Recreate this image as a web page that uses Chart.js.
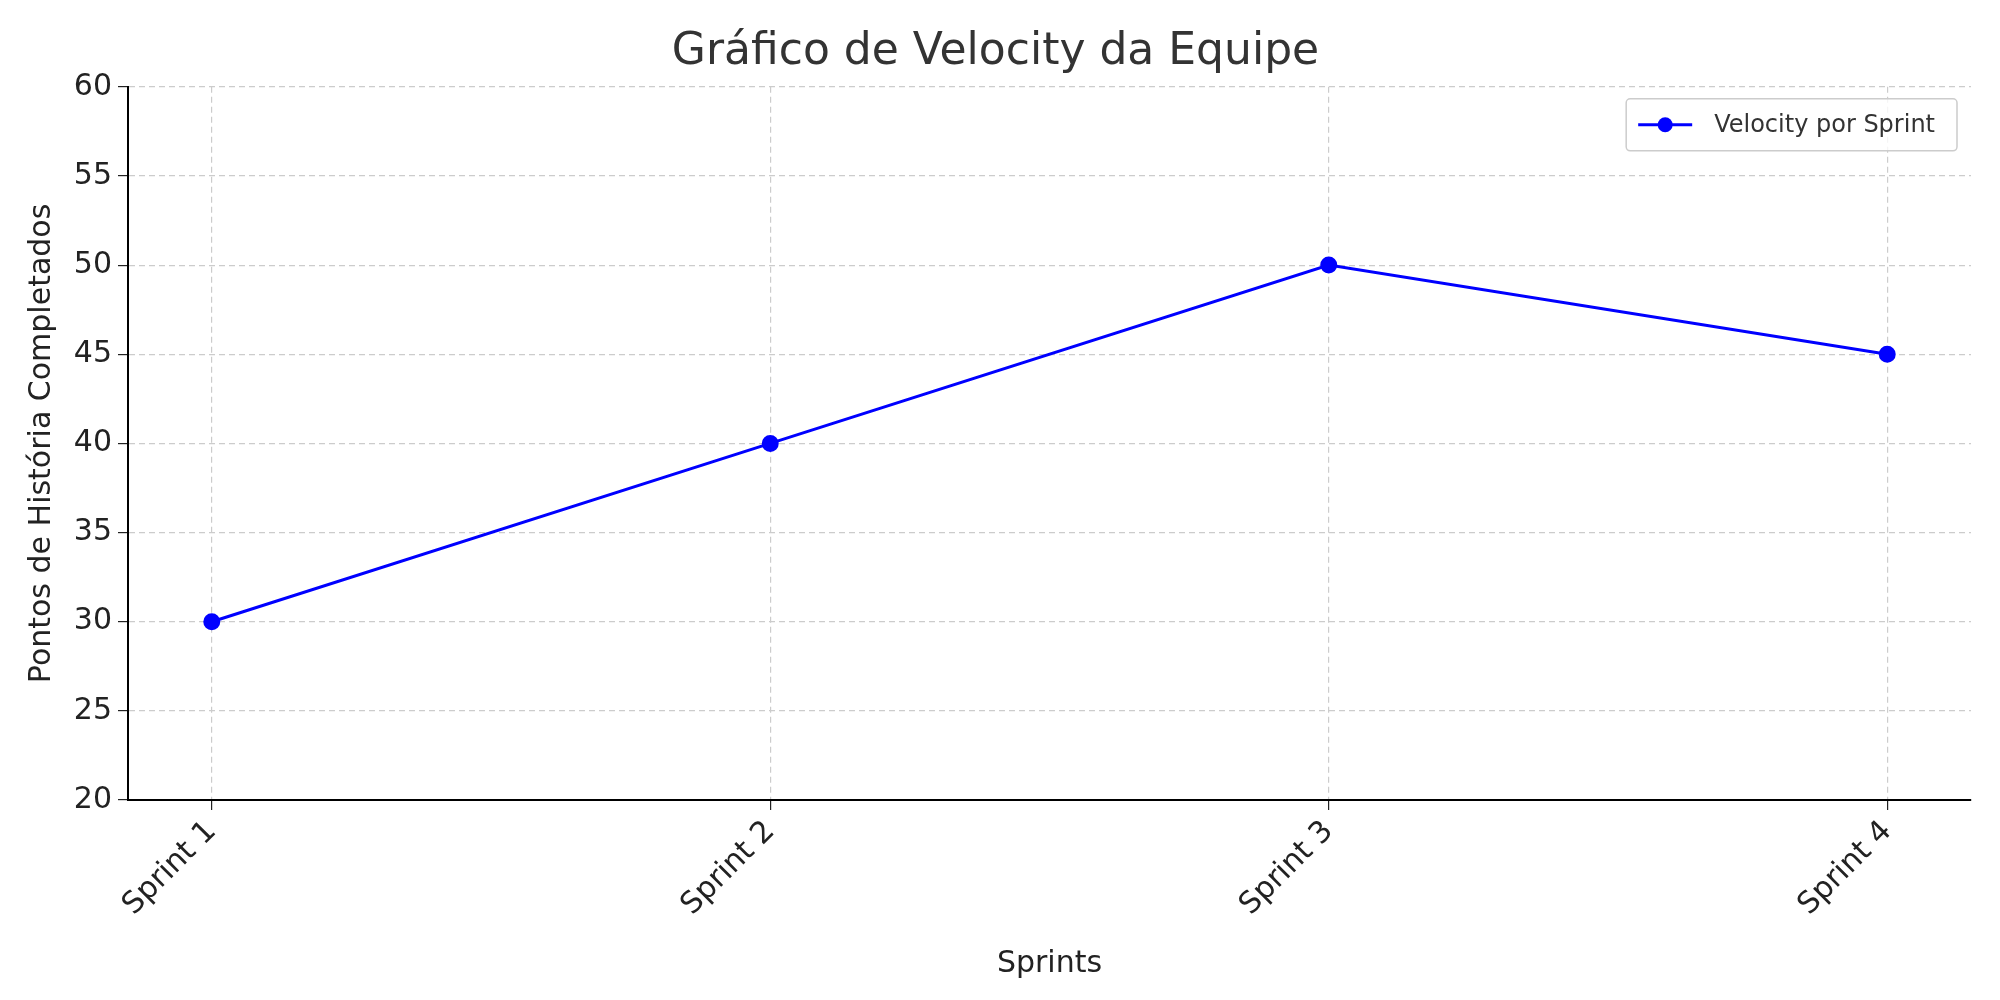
<!DOCTYPE html>
<html><head><meta charset="utf-8">
<script src="https://cdn.jsdelivr.net/npm/chart.js@4"></script>
<style>html,body{margin:0;padding:0;background:#fff}#w{width:2000px;height:1000px}</style>
</head><body><div id="w"><canvas id="c" width="2000" height="1000"></canvas></div>
<script>
const categories = ["Sprint 1","Sprint 2","Sprint 3","Sprint 4"];
const velocity = [30,40,50,45];
const yTicks = [20,25,30,35,40,45,50,55,60];
const seriesLabel = "Velocity por Sprint";
const FONT = "DejaVu Sans";

const legendPlugin = {
  id:'inLegend',
  afterDraw(chart){
    const {ctx, chartArea:a} = chart;
    ctx.save();
    ctx.font = `24px "${FONT}"`;
    const tw = ctx.measureText(seriesLabel).width;
    const w = tw + 110, h = 52;
    const x = a.right - 14 - w, y = a.top + 12;
    ctx.fillStyle='rgba(255,255,255,0.8)';
    ctx.strokeStyle='#cccccc'; ctx.lineWidth=1.5;
    ctx.beginPath(); ctx.roundRect(x,y,w,h,4); ctx.fill(); ctx.stroke();
    ctx.strokeStyle='#0000ff'; ctx.lineWidth=3;
    ctx.beginPath(); ctx.moveTo(x+12,y+h/2); ctx.lineTo(x+66,y+h/2); ctx.stroke();
    ctx.fillStyle='#0000ff'; ctx.beginPath(); ctx.arc(x+39,y+h/2,7.5,0,Math.PI*2); ctx.fill();
    ctx.fillStyle='#333'; ctx.textBaseline='middle';
    ctx.fillText(seriesLabel, x+88, y+h/2+1);
    ctx.restore();
  }
};

new Chart(document.getElementById('c'), {
  type:'line',
  data:{datasets:[{label:seriesLabel,
    data:velocity.map((v,i)=>({x:i,y:v})),
    borderColor:'#0000ff',backgroundColor:'#0000ff',borderWidth:3,
    pointRadius:7,pointHoverRadius:7,tension:0}]},
  options:{
    responsive:false,animation:false,devicePixelRatio:1,
    layout:{padding:{left:20,right:29,top:10,bottom:14}},
    plugins:{
      legend:{display:false},tooltip:{enabled:false},
      title:{display:true,text:'Gráfico de Velocity da Equipe',color:'#333',
        font:{family:FONT,size:44,weight:'normal'},padding:{top:16,bottom:8}}
    },
    scales:{
      x:{type:'linear',min:-0.15,max:3.15,
        afterBuildTicks(s){s.ticks=categories.map((c,i)=>({value:i}));},
        afterFit(s){s.height=186;},
        ticks:{callback:(v)=>categories[v]??'',maxRotation:45,minRotation:45,
          color:'#222',font:{family:FONT,size:30},padding:4},
        grid:{color:'#cccccc',lineWidth:1.2,tickLength:10,tickColor:'#222'},
        border:{display:true,color:'#000',width:2,dash:[6,4]},
        title:{display:true,text:'Sprints',color:'#222',font:{family:FONT,size:30},padding:{top:0}}
      },
      y:{min:20,max:60,
        afterBuildTicks(s){s.ticks=yTicks.map(v=>({value:v}));},
        afterFit(s){s.width=108;},
        ticks:{color:'#222',font:{family:FONT,size:30},padding:6},
        grid:{color:'#cccccc',lineWidth:1.2,tickLength:10,tickColor:'#222'},
        border:{display:true,color:'#000',width:2,dash:[6,4]},
        title:{display:true,text:'Pontos de História Completados',color:'#222',font:{family:FONT,size:30},padding:{bottom:2}}
      }
    }
  },
  plugins:[legendPlugin]
});
</script></body></html>
